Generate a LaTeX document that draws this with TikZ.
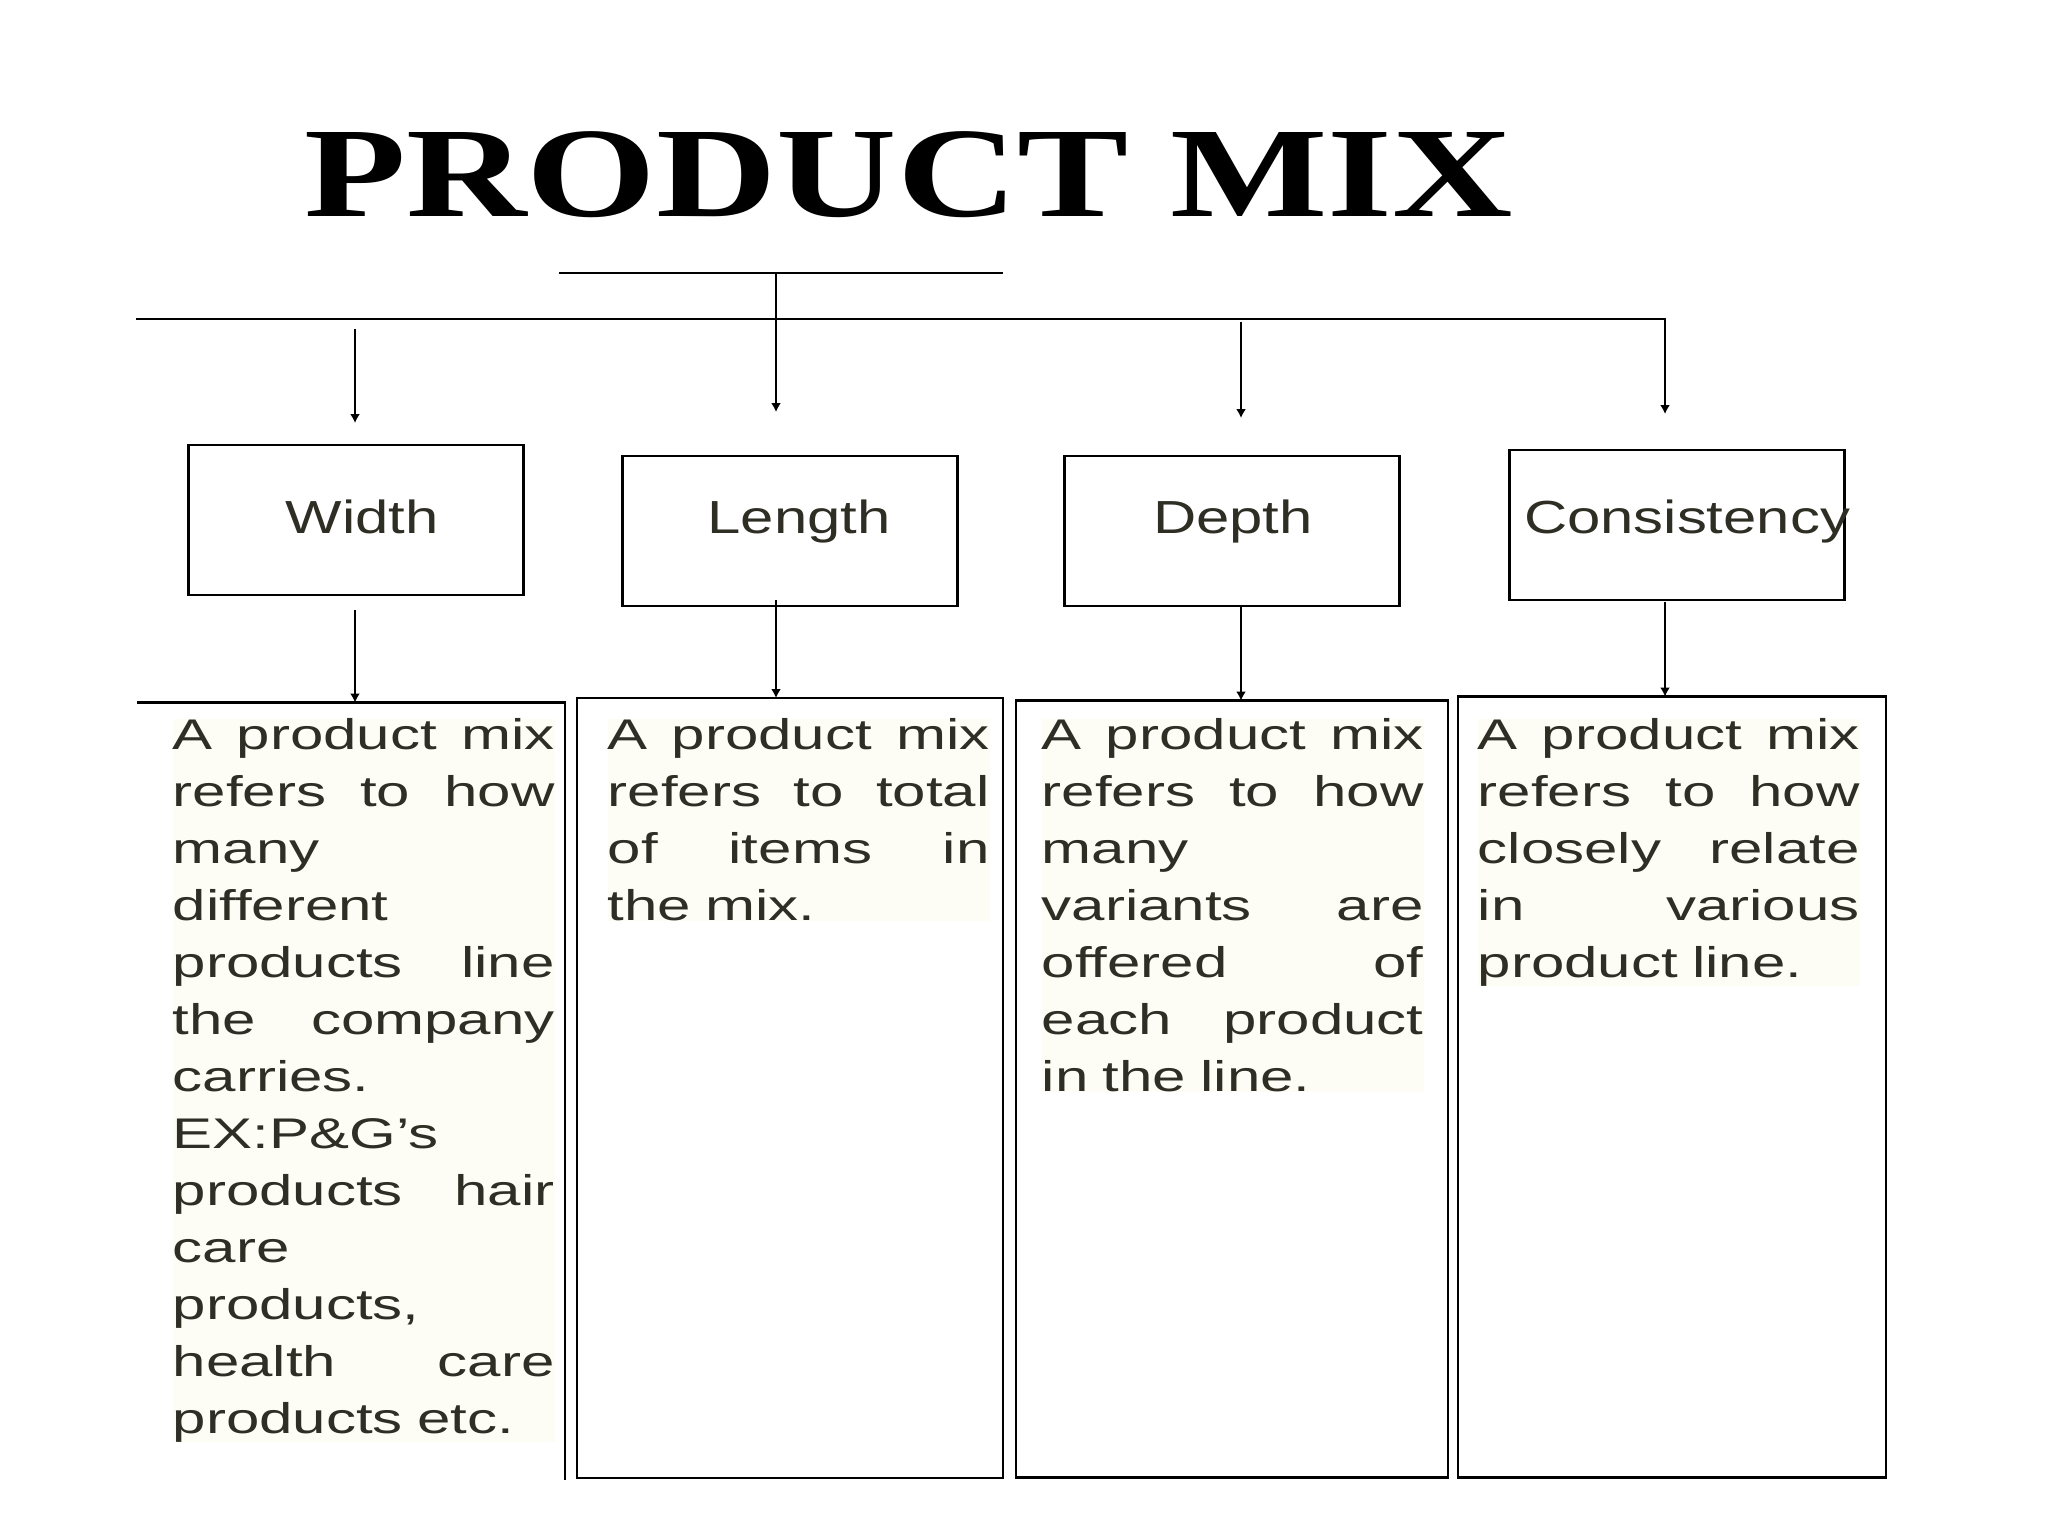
\documentclass[tikz,border=0pt]{standalone}
\usepackage{fontspec}
\setmainfont{Liberation Sans}[FakeStretch=1.29]
\newfontfamily\descfont{Liberation Sans}[FakeStretch=1.40]
\newfontfamily\titlefont{Liberation Serif}[FakeStretch=1.3]
\usepackage{xcolor}
\usetikzlibrary{arrows.meta}
\definecolor{inkgray}{RGB}{46,46,36}
\definecolor{cream}{RGB}{253,253,246}
\newlength{\desctw}
\setlength{\desctw}{38.2mm}
\newcommand{\jst}[1]{\makebox[\desctw][s]{\spaceskip=0.1em plus 1fil\relax #1}}

\begin{document}
\begin{tikzpicture}[x=0.1mm,y=-0.1mm,
  topbox/.style={draw, line width=0.75pt, minimum width=33.5mm, minimum height=15mm, inner sep=0pt, outer sep=0pt},
  toplabel/.style={anchor=base, text=inkgray, font=\fontsize{13.2}{15}\selectfont, inner sep=0pt},
  descbox/.style={line width=0.75pt, inner sep=0pt, outer sep=0pt},
  desctext/.style={anchor=north west, text width=\desctw, align=left, inner sep=0pt, fill=cream, text=inkgray, font=\descfont\fontsize{12.2}{16.2}\selectfont},
  arr/.style={line width=0.6pt, -{Latex[length=0.9mm,width=1mm]}},
  rule/.style={line width=0.6pt}]

\fill [white] (0,0) rectangle (2048,1536);
\node [anchor=base, inner sep=0pt, font=\titlefont\bfseries\fontsize{36.5}{40}\selectfont] (title) at (909,216) {PRODUCT MIX};

\coordinate (tl) at (559,273);
\coordinate (tr) at (1003,273);
\coordinate (barl) at (136,319);
\coordinate (bw) at (355,319);
\coordinate (bl) at (776,319);
\coordinate (bd) at (1241,319);
\coordinate (bc) at (1665,319);

\node [topbox] (wbox) at (356,520) {};
\node [topbox] (lbox) at (790,531) {};
\node [topbox] (dbox) at (1232,531) {};
\node [topbox] (cbox) at (1677,525) {};
\node [toplabel] (wlab) at (362,533) {Width};
\node [toplabel] (llab) at (799,533) {Length};
\node [toplabel] (dlab) at (1233,533) {Depth};
\node [toplabel] (clab) at (1687,533) {Consistency};

\node [descbox, minimum width=42.8mm, minimum height=77.7mm] (wdesc) at (351,1091) {};
\node [descbox, draw, minimum width=42.6mm, minimum height=78mm] (ldesc) at (790,1088) {};
\node [descbox, draw, minimum width=43.2mm, minimum height=77.7mm] (ddesc) at (1232,1089) {};
\node [descbox, draw, minimum width=42.8mm, minimum height=78.1mm] (cdesc) at (1672,1087) {};
\draw [line width=0.75pt] (wdesc.north west) -- (wdesc.north east) -- (wdesc.south east);

\node [desctext] (wtext) at (172,718) {\jst{A product mix}\\ \jst{refers to how}\\ many\\ different\\ \jst{products line}\\ \jst{the company}\\ carries.\\ EX:P\&G’s\\ \jst{products hair}\\ care\\ products,\\ \jst{health care}\\ products etc.};
\node [desctext] (ltext) at (607,718) {\jst{A product mix}\\ \jst{refers to total}\\ \jst{of items in}\\ the mix.};
\node [desctext] (dtext) at (1041,718) {\jst{A product mix}\\ \jst{refers to how}\\ many\\ \jst{variants are}\\ \jst{offered of}\\ \jst{each product}\\ in the line.};
\node [desctext] (ctext) at (1477,718) {\jst{A product mix}\\ \jst{refers to how}\\ \jst{closely relate}\\ \jst{in various}\\ product line.};

\draw [rule] (tl) -- (tr);
\draw [arr, shorten >=3.6mm] (barl) -- (bc) -- (bc |- cbox.north);
\draw [arr, shorten >=4.4mm] (bl |- tl) -- (bl |- lbox.north);
\draw [arr, shorten <=1mm, shorten >=2.2mm] (bw) -- (bw |- wbox.north);
\draw [arr, shorten <=0.3mm, shorten >=3.8mm] (bd) -- (bd |- dbox.north);

\draw [arr, shorten <=1.5mm] (bw |- wbox.south) -- (bw |- wdesc.north);
\draw [arr, shorten <=-0.6mm] (bl |- lbox.south) -- (bl |- ldesc.north);
\draw [arr] (bd |- dbox.south) -- (bd |- ddesc.north);
\draw [arr, shorten <=0.2mm] (bc |- cbox.south) -- (bc |- cdesc.north);
\end{tikzpicture}
\end{document}
